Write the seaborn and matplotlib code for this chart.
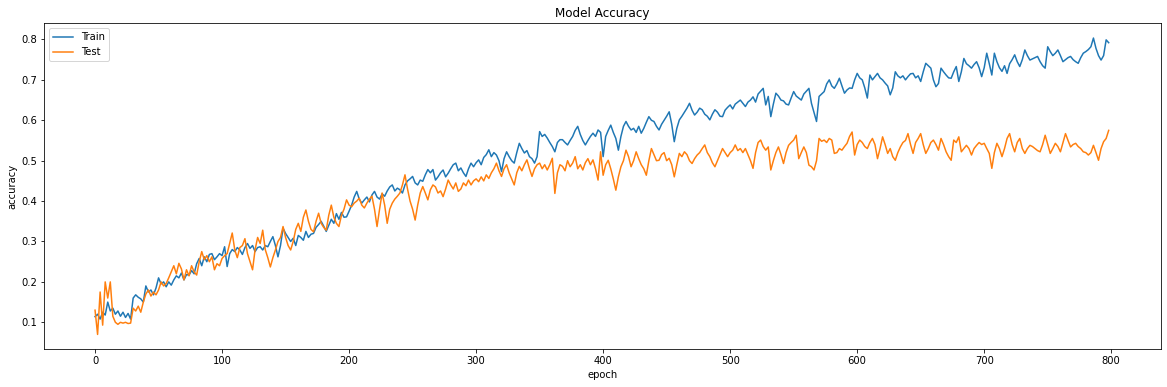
import numpy as np
import matplotlib
matplotlib.use("Agg")
import matplotlib.pyplot as plt
import seaborn as sns

# epochs sampled every 2 epochs (0..798)
epochs = list(range(0, 800, 2))

# Training accuracy (50-epoch blocks)
train_acc = (
    [0.114, 0.12, 0.108, 0.125, 0.118, 0.15, 0.128, 0.135, 0.12, 0.128, 0.115, 0.125, 0.112, 0.122, 0.108,
     0.16, 0.168, 0.162, 0.158, 0.15, 0.19, 0.175, 0.18, 0.168, 0.185] +
    [0.21, 0.195, 0.2, 0.188, 0.2, 0.192, 0.205, 0.215, 0.21, 0.222, 0.205, 0.218, 0.217, 0.228, 0.22,
     0.245, 0.258, 0.24, 0.262, 0.25, 0.268, 0.27, 0.255, 0.262, 0.27] +
    [0.265, 0.287, 0.238, 0.27, 0.28, 0.275, 0.285, 0.279, 0.268, 0.285, 0.295, 0.283, 0.29, 0.275, 0.285,
     0.287, 0.279, 0.29, 0.287, 0.3, 0.312, 0.29, 0.262, 0.29, 0.333] +
    [0.32, 0.31, 0.3, 0.308, 0.29, 0.315, 0.31, 0.303, 0.325, 0.31, 0.318, 0.32, 0.335, 0.342, 0.35,
     0.338, 0.325, 0.34, 0.355, 0.345, 0.369, 0.355, 0.372, 0.36, 0.361] +
    [0.375, 0.39, 0.41, 0.424, 0.405, 0.395, 0.403, 0.41, 0.398, 0.415, 0.424, 0.41, 0.405, 0.418, 0.412,
     0.425, 0.435, 0.44, 0.425, 0.432, 0.428, 0.42, 0.44, 0.45, 0.455] +
    [0.461, 0.445, 0.44, 0.452, 0.449, 0.465, 0.478, 0.47, 0.478, 0.452, 0.46, 0.47, 0.477, 0.46, 0.469,
     0.48, 0.49, 0.494, 0.475, 0.482, 0.47, 0.461, 0.48, 0.494, 0.485] +
    [0.495, 0.502, 0.49, 0.508, 0.515, 0.527, 0.51, 0.52, 0.514, 0.5, 0.473, 0.505, 0.522, 0.51, 0.5,
     0.494, 0.52, 0.543, 0.53, 0.519, 0.525, 0.51, 0.505, 0.494, 0.51] +
    [0.572, 0.56, 0.565, 0.556, 0.545, 0.535, 0.522, 0.545, 0.552, 0.552, 0.545, 0.539, 0.55, 0.56, 0.575,
     0.585, 0.565, 0.55, 0.539, 0.55, 0.56, 0.568, 0.56, 0.576, 0.57] +
    [0.51, 0.56, 0.575, 0.588, 0.57, 0.555, 0.526, 0.56, 0.585, 0.597, 0.585, 0.576, 0.58, 0.57, 0.585,
     0.568, 0.58, 0.595, 0.609, 0.6, 0.597, 0.585, 0.576, 0.59, 0.6] +
    [0.61, 0.621, 0.59, 0.547, 0.58, 0.601, 0.61, 0.62, 0.63, 0.642, 0.625, 0.613, 0.62, 0.63, 0.626,
     0.615, 0.61, 0.601, 0.615, 0.626, 0.62, 0.61, 0.609, 0.625, 0.632] +
    [0.638, 0.628, 0.64, 0.645, 0.65, 0.642, 0.634, 0.645, 0.65, 0.658, 0.645, 0.665, 0.672, 0.679, 0.638,
     0.659, 0.609, 0.64, 0.667, 0.66, 0.65, 0.648, 0.64, 0.638, 0.655] +
    [0.671, 0.66, 0.655, 0.65, 0.665, 0.672, 0.679, 0.642, 0.62, 0.597, 0.659, 0.665, 0.671, 0.69, 0.7,
     0.685, 0.679, 0.69, 0.704, 0.685, 0.667, 0.675, 0.68, 0.679, 0.7] +
    [0.716, 0.705, 0.7, 0.68, 0.655, 0.712, 0.7, 0.708, 0.716, 0.705, 0.7, 0.692, 0.685, 0.663, 0.68,
     0.72, 0.71, 0.705, 0.71, 0.7, 0.708, 0.715, 0.716, 0.705, 0.71] +
    [0.696, 0.72, 0.741, 0.735, 0.729, 0.7, 0.683, 0.691, 0.729, 0.72, 0.712, 0.705, 0.704, 0.72, 0.733,
     0.696, 0.72, 0.753, 0.74, 0.735, 0.729, 0.738, 0.745, 0.73, 0.708] +
    [0.73, 0.766, 0.74, 0.712, 0.766, 0.745, 0.73, 0.721, 0.735, 0.716, 0.74, 0.75, 0.762, 0.745, 0.733,
     0.75, 0.774, 0.76, 0.749, 0.752, 0.755, 0.758, 0.745, 0.735, 0.729] +
    [0.782, 0.77, 0.76, 0.766, 0.774, 0.76, 0.745, 0.75, 0.755, 0.758, 0.75, 0.745, 0.741, 0.755, 0.766,
     0.77, 0.775, 0.782, 0.8035, 0.778, 0.76, 0.749, 0.76, 0.799, 0.792]
)

# Test accuracy (50-epoch blocks)
test_acc = (
    [0.13, 0.07, 0.175, 0.093, 0.2, 0.16, 0.2, 0.115, 0.1, 0.095, 0.1, 0.098, 0.1, 0.097, 0.098,
     0.135, 0.128, 0.14, 0.125, 0.15, 0.17, 0.18, 0.165, 0.175, 0.168] +
    [0.18, 0.2, 0.19, 0.196, 0.21, 0.225, 0.24, 0.22, 0.246, 0.232, 0.205, 0.23, 0.215, 0.24, 0.225,
     0.217, 0.25, 0.275, 0.255, 0.265, 0.25, 0.262, 0.23, 0.245, 0.24] +
    [0.258, 0.265, 0.27, 0.295, 0.321, 0.279, 0.26, 0.285, 0.29, 0.307, 0.27, 0.25, 0.23, 0.28, 0.31,
     0.295, 0.328, 0.28, 0.26, 0.237, 0.26, 0.279, 0.3, 0.31, 0.337] +
    [0.31, 0.29, 0.279, 0.3, 0.33, 0.345, 0.325, 0.36, 0.378, 0.35, 0.33, 0.324, 0.35, 0.37, 0.345,
     0.335, 0.328, 0.365, 0.39, 0.36, 0.345, 0.337, 0.365, 0.38, 0.403] +
    [0.39, 0.386, 0.395, 0.4, 0.407, 0.39, 0.383, 0.395, 0.405, 0.412, 0.38, 0.337, 0.38, 0.42, 0.39,
     0.345, 0.38, 0.395, 0.405, 0.412, 0.42, 0.44, 0.465, 0.43, 0.4] +
    [0.38, 0.353, 0.39, 0.42, 0.436, 0.42, 0.403, 0.428, 0.44, 0.435, 0.42, 0.425, 0.411, 0.43, 0.452,
     0.44, 0.43, 0.445, 0.424, 0.43, 0.445, 0.438, 0.452, 0.44, 0.45] +
    [0.455, 0.448, 0.46, 0.45, 0.465, 0.456, 0.47, 0.48, 0.494, 0.475, 0.461, 0.48, 0.49, 0.47, 0.455,
     0.44, 0.47, 0.486, 0.475, 0.49, 0.502, 0.48, 0.461, 0.48, 0.49] +
    [0.494, 0.48, 0.49, 0.477, 0.49, 0.506, 0.419, 0.47, 0.49, 0.486, 0.475, 0.5, 0.485, 0.494, 0.51,
     0.48, 0.49, 0.477, 0.495, 0.505, 0.49, 0.502, 0.48, 0.452, 0.522] +
    [0.464, 0.49, 0.501, 0.48, 0.455, 0.427, 0.46, 0.485, 0.5, 0.526, 0.51, 0.485, 0.5, 0.522, 0.505,
     0.49, 0.48, 0.464, 0.5, 0.53, 0.515, 0.5, 0.501, 0.515, 0.52] +
    [0.5, 0.506, 0.49, 0.46, 0.49, 0.518, 0.51, 0.522, 0.515, 0.5, 0.493, 0.505, 0.514, 0.52, 0.53,
     0.539, 0.52, 0.51, 0.495, 0.485, 0.5, 0.515, 0.53, 0.52, 0.51] +
    [0.52, 0.526, 0.539, 0.525, 0.53, 0.52, 0.53, 0.515, 0.5, 0.481, 0.52, 0.545, 0.551, 0.535, 0.526,
     0.534, 0.477, 0.5, 0.52, 0.534, 0.515, 0.493, 0.52, 0.538, 0.545] +
    [0.551, 0.563, 0.505, 0.52, 0.534, 0.52, 0.489, 0.485, 0.477, 0.5, 0.555, 0.548, 0.551, 0.545, 0.555,
     0.551, 0.518, 0.52, 0.53, 0.526, 0.535, 0.543, 0.56, 0.571, 0.514] +
    [0.54, 0.551, 0.545, 0.535, 0.53, 0.545, 0.555, 0.54, 0.505, 0.53, 0.559, 0.54, 0.518, 0.53, 0.51,
     0.501, 0.52, 0.534, 0.545, 0.55, 0.567, 0.54, 0.518, 0.545, 0.555] +
    [0.567, 0.54, 0.518, 0.53, 0.545, 0.551, 0.54, 0.526, 0.555, 0.54, 0.522, 0.51, 0.501, 0.551, 0.545,
     0.559, 0.522, 0.53, 0.538, 0.53, 0.514, 0.53, 0.538, 0.545, 0.54] +
    [0.543, 0.53, 0.518, 0.481, 0.52, 0.543, 0.53, 0.51, 0.53, 0.555, 0.567, 0.54, 0.522, 0.545, 0.555,
     0.53, 0.518, 0.53, 0.538, 0.535, 0.53, 0.525, 0.522, 0.54, 0.563] +
    [0.54, 0.518, 0.53, 0.543, 0.535, 0.522, 0.545, 0.567, 0.55, 0.534, 0.54, 0.543, 0.535, 0.53, 0.522,
     0.52, 0.514, 0.52, 0.538, 0.52, 0.501, 0.53, 0.547, 0.555, 0.575]
)

assert len(train_acc) == len(epochs) == len(test_acc)

series_names = ["Train", "Test"]
title = "Model Accuracy"
x_label = "epoch"
y_label = "accuracy"

W, H, DPI = 1167, 387, 72
fig = plt.figure(figsize=(W / DPI, H / DPI), dpi=DPI)
ax = fig.add_axes([44.3 / W, (H - 349.3) / H, 1116.4 / W, 326.0 / H])

sns.lineplot(x=epochs, y=train_acc, ax=ax, color="#1f77b4", linewidth=1.5,
             label=series_names[0], sort=False)
sns.lineplot(x=epochs, y=test_acc, ax=ax, color="#ff7f0e", linewidth=1.5,
             label=series_names[1], sort=False)

ax.set_title(title, fontsize=12)
ax.set_xlabel(x_label, fontsize=10)
ax.set_ylabel(y_label, fontsize=10)
ax.tick_params(labelsize=10)
ax.set_xticks([0, 100, 200, 300, 400, 500, 600, 700, 800])
ax.set_yticks([0.1, 0.2, 0.3, 0.4, 0.5, 0.6, 0.7, 0.8])
ax.set_xlim(-39.95, 838.95)
ax.set_ylim(0.0332, 0.840)
ax.legend(loc="upper left", fontsize=10)

fig.savefig("out.png", dpi=DPI, facecolor="white")
